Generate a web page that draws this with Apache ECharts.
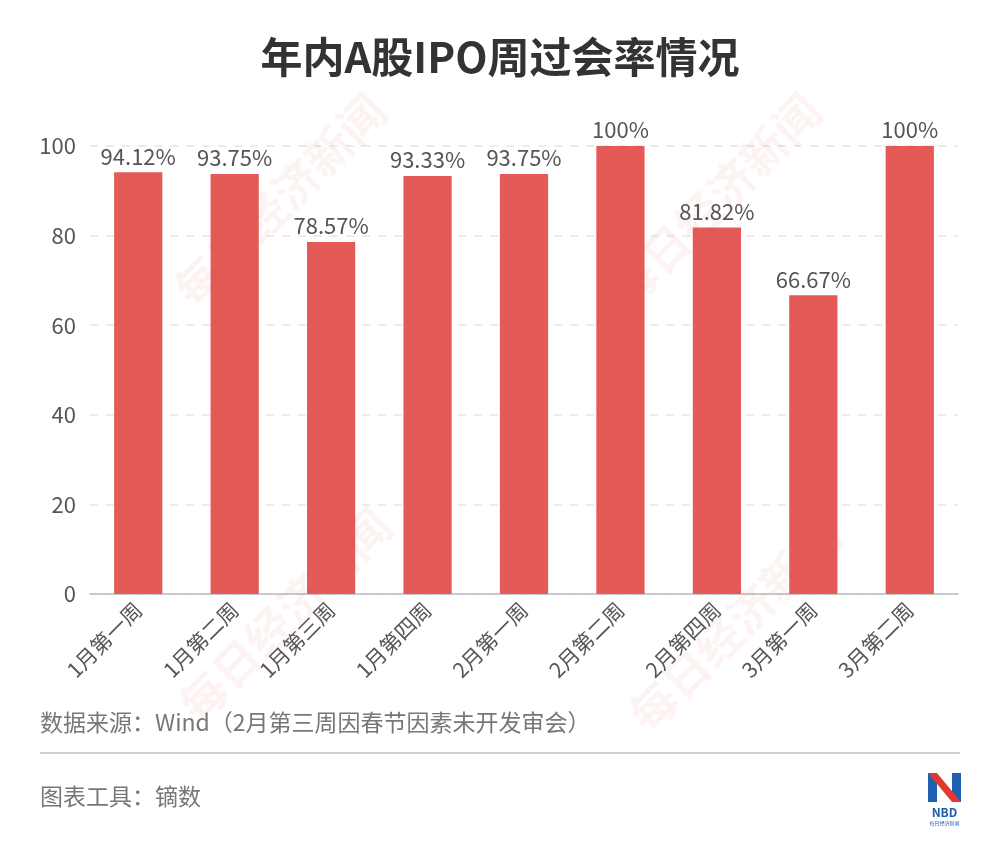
<!DOCTYPE html>
<html>
<head>
<meta charset="utf-8">
<script src="https://cdn.jsdelivr.net/npm/echarts@6/dist/echarts.min.js"></script>
<style>
  html, body { margin: 0; padding: 0; background: #fff; }
  #chart { width: 1000px; height: 850px; }
</style>
</head>
<body>
<div id="chart"></div>
<script>
const weeks = ['1月第一周', '1月第二周', '1月第三周', '1月第四周', '2月第一周', '2月第二周', '2月第四周', '3月第一周', '3月第二周'];
const passRates = [94.12, 93.75, 78.57, 93.33, 93.75, 100, 81.82, 66.67, 100];
const yTicks = [0, 20, 40, 60, 80, 100];

const font = '"Noto Sans CJK SC", "Noto Sans", sans-serif';

const chart = echarts.init(document.getElementById('chart'));

// faint diagonal watermark
const watermarks = [[280, 200], [715, 200], [285, 615], [735, 625]].map(p => ({
  type: 'text',
  x: p[0], y: p[1],
  rotation: Math.PI / 4,
  z: 10,
  style: {
    text: '每日经济新闻',
    font: 'bold 46px ' + font,
    fill: 'rgba(232, 90, 85, 0.07)',
    align: 'center',
    verticalAlign: 'middle'
  }
}));

const option = {
  backgroundColor: '#fff',
  title: {
    text: '年内A股IPO周过会率情况',
    left: 'center',
    top: 31,
    textStyle: { fontFamily: font, fontSize: 42, fontWeight: 'bold', color: '#333' }
  },
  grid: { left: 90, right: 42, top: 146, bottom: 256 },
  xAxis: {
    type: 'category',
    data: weeks,
    axisLine: { lineStyle: { color: '#bbb', width: 1.5 } },
    axisTick: { alignWithLabel: true, length: 6, lineStyle: { color: '#bbb' } },
    axisLabel: { rotate: 45, fontFamily: font, fontSize: 21, color: '#555', margin: 12 }
  },
  yAxis: {
    type: 'value',
    min: yTicks[0],
    max: yTicks[yTicks.length - 1],
    interval: 20,
    axisLine: { show: false },
    axisTick: { show: false },
    axisLabel: { fontFamily: font, fontSize: 22, color: '#555', margin: 14 },
    splitLine: { lineStyle: { color: '#e6e6e6', type: [8, 8], width: 1.5 } }
  },
  series: [{
    type: 'bar',
    data: passRates,
    barWidth: '50%',
    itemStyle: { color: '#e35a56' },
    label: {
      show: true,
      position: 'top',
      distance: 5,
      fontFamily: font,
      fontSize: 22,
      color: '#555',
      formatter: p => p.value + '%'
    }
  }],
  graphic: [
    ...watermarks,
    {
      type: 'text', left: 40, top: 711,
      style: { text: '数据来源：Wind（2月第三周因春节因素未开发审会）', font: '23px ' + font, fill: '#777' }
    },
    {
      type: 'line', shape: { x1: 40, y1: 753, x2: 960, y2: 753 },
      style: { stroke: '#d0d0d0', lineWidth: 2 }
    },
    {
      type: 'text', left: 40, top: 785,
      style: { text: '图表工具：镝数', font: '23px ' + font, fill: '#777' }
    },
    // NBD logo
    { type: 'polygon', shape: { points: [[928, 773], [937, 773], [937, 802], [928, 802]] }, style: { fill: '#1f5fb0' } },
    { type: 'polygon', shape: { points: [[952, 773], [961, 773], [961, 802], [952, 802]] }, style: { fill: '#1f5fb0' } },
    { type: 'polygon', shape: { points: [[928, 773], [937, 773], [961, 802], [952, 802]] }, style: { fill: '#e03a2f' } },
    {
      type: 'text', x: 944.5, y: 812,
      style: { text: 'NBD', font: 'bold 12px ' + font, fill: '#1f5fb0', align: 'center', verticalAlign: 'middle' }
    },
    {
      type: 'text', x: 944.5, y: 823,
      style: { text: '每日经济新闻', font: '5px ' + font, fill: '#1f5fb0', align: 'center', verticalAlign: 'middle' }
    }
  ]
};

chart.setOption(option);
</script>
</body>
</html>
